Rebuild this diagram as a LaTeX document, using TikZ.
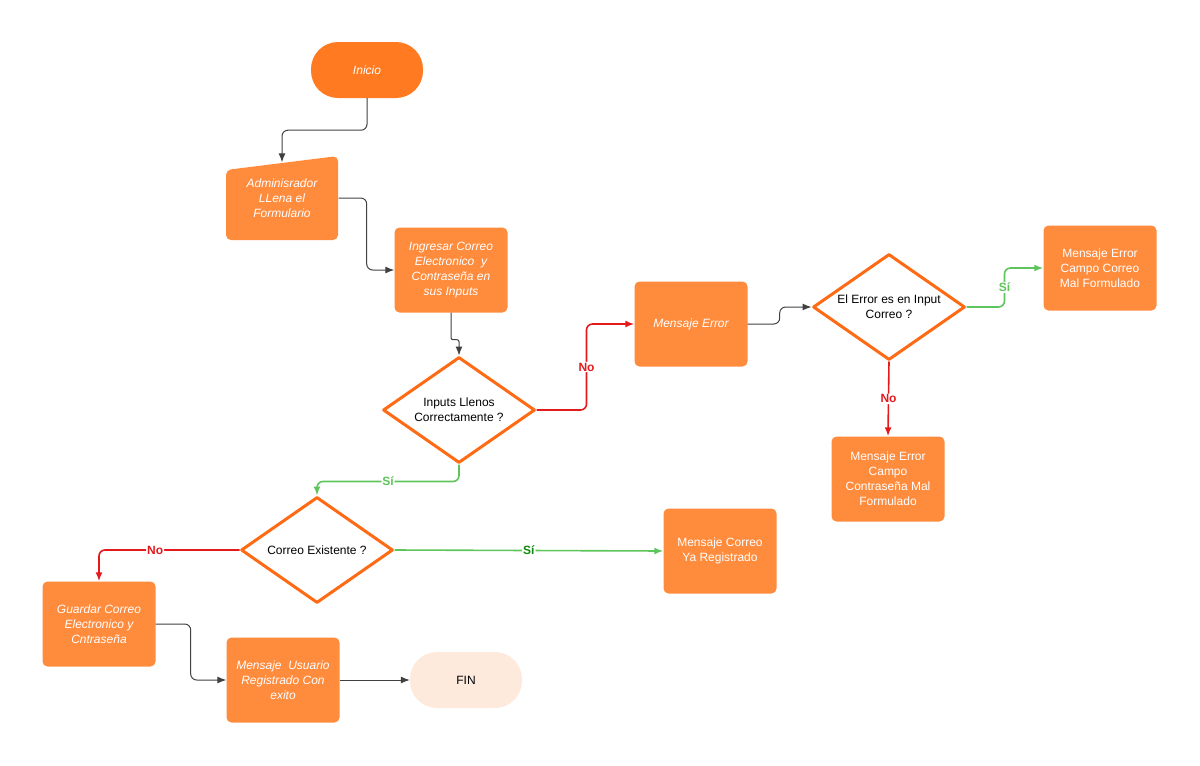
\documentclass[tikz,border=0pt]{standalone}
\usepackage{fontspec}
\setmainfont{Liberation Sans}
\usetikzlibrary{calc, arrows.meta, shapes.geometric, positioning}
\definecolor{startOrange}{HTML}{FF7A21}
\definecolor{boxOrange}{HTML}{FF8B3D}
\definecolor{diamondOrange}{HTML}{FF6A14}
\definecolor{noRed}{HTML}{E3191C}
\definecolor{yesGreen}{HTML}{5DC55B}
\definecolor{yesDark}{HTML}{0F8A0F}
\definecolor{flowGray}{HTML}{404040}
\definecolor{endPeach}{HTML}{FDEADD}
\tikzset{
  terminal node/.style={rounded corners=27pt, minimum width=112pt, minimum height=56pt, align=center, font=\fontsize{12}{15}\selectfont},
  process node/.style={fill=boxOrange, rounded corners=5pt, minimum width=113pt, minimum height=85pt, inner sep=2pt, align=center, text=white, font=\fontsize{12}{15}\selectfont\itshape},
  message node/.style={process node, font=\fontsize{12}{15}\selectfont},
  decision node/.style={diamond, aspect=1.43, draw=diamondOrange, line width=3pt, line join=round, fill=white, minimum width=152pt, minimum height=106pt, inner sep=0pt, align=center, font=\fontsize{12}{15}\selectfont},
  flow line/.style={->, draw=flowGray, line width=1pt, rounded corners=6pt},
  yes line/.style={->, draw=yesGreen, line width=1.6pt, rounded corners=6pt},
  no line/.style={->, draw=noRed, line width=1.6pt, rounded corners=6pt},
  branch label/.style={fill=white, inner sep=1pt, font=\fontsize{12}{14}\selectfont\bfseries},
  >={Latex[length=9pt, width=7pt]},
}

\begin{document}
\begin{tikzpicture}[x=1pt, y=-1pt]
  \useasboundingbox (0,0) rectangle (1200,766);
  % start and the manual input
  \node[terminal node, fill=startOrange, text=white, font=\fontsize{12}{15}\selectfont\itshape] (inicio) at (367,70) {Inicio};
  \coordinate (adminC) at (282,198);
  \fill[boxOrange, rounded corners=5pt] ($(adminC)+(-56,42)$) -- ($(adminC)+(-56,-28)$) -- ($(adminC)+(56,-42)$) -- ($(adminC)+(56,42)$) -- cycle;
  \node[process node, fill=none] (admin) at (adminC) {Adminisrador\\LLena el\\Formulario};
  \node[process node] (ingresar) at (451,270) {Ingresar Correo\\Electronico~ y\\Contraseña en\\sus Inputs};
  \node[decision node] (inputs) at (459,410) {Inputs Llenos\\Correctamente ?};
  % error branch
  \node[process node] (msgerror) at (691,324) {Mensaje Error};
  \node[decision node] (elerror) at (889,307) {El Error es en Input\\Correo ?};
  \node[message node] (campocorreo) at (1100,268) {Mensaje Error\\Campo Correo\\Mal Formulado};
  \node[message node] (campopass) at (888,479) {Mensaje Error\\Campo\\Contraseña Mal\\Formulado};
  % ok branch
  \node[decision node] (correoex) at (317,550) {Correo Existente ?};
  \node[message node] (yareg) at (720,551) {Mensaje Correo\\Ya Registrado};
  \node[process node] (guardar) at (99,624) {Guardar Correo\\Electronico y\\Cntraseña};
  \node[process node] (usuario) at (283,680) {Mensaje~ Usuario\\Registrado Con\\exito};
  \node[terminal node, fill=endPeach] (fin) at (466,680) {FIN};

  \draw[flow line] (inicio.south) -- ++(0,32) -| ($(admin.north)+(0,7)$);
  \draw[flow line] (admin.east) -- ++(28,0) |- (ingresar.west);
  \draw[flow line, rounded corners=2pt] (ingresar.south) -- ++(0,27) -| (inputs.north);
  \draw[no line] (inputs.east) -- ++(50,0) |- node[branch label, text=noRed, pos=0.25] {No} (msgerror.west);
  \draw[flow line] (msgerror.east) -- ++(32,0) |- (elerror.west);
  \draw[yes line] (elerror.east) -- ++(38,0) |- node[branch label, text=yesGreen, pos=0.25] {Sí} (campocorreo.west);
  \draw[no line] (elerror.south) -- node[branch label, text=noRed] {No} (campopass.north);
  \draw[yes line] (inputs.south) -- ++(0,17) -| node[branch label, text=yesGreen, pos=0.25] {Sí} (correoex.north);
  \draw[no line] (correoex.west) -| node[branch label, text=noRed, pos=0.3] {No} (guardar.north);
  \draw[yes line] (correoex.east) -- node[branch label, text=yesDark] {Sí} (yareg.west);
  \draw[flow line] (guardar.east) -- ++(35,0) |- (usuario.west);
  \draw[flow line] (usuario.east) -- (fin.west);
\end{tikzpicture}
\end{document}
